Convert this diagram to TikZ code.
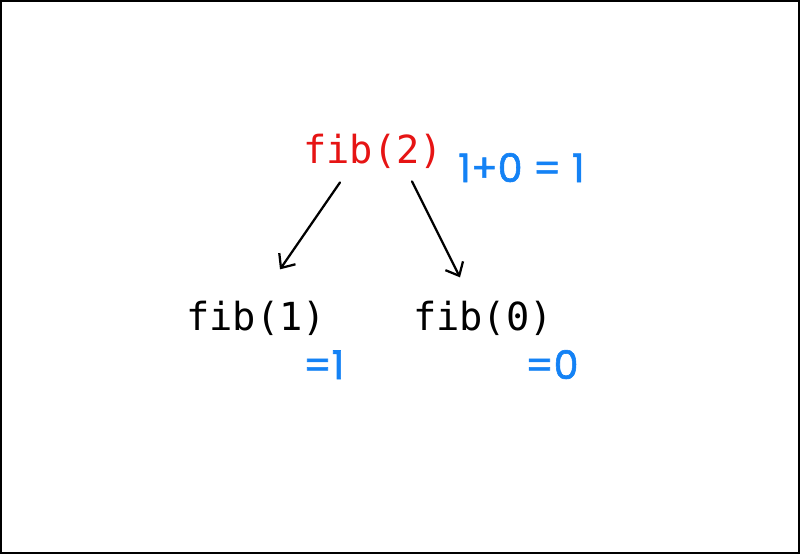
\documentclass[tikz,border=0pt]{standalone}
\usepackage{fontspec}
\setmonofont{DejaVu Sans Mono}
\newfontfamily\sumfont[FakeBold=1.5]{Poppins}
\usetikzlibrary{arrows.meta, calc}

\definecolor{callred}{RGB}{230,20,20}
\definecolor{sumblue}{RGB}{20,130,245}

\tikzset{
  call/.style={inner sep=0pt, anchor=base, font=\ttfamily\fontsize{27.5}{31}\selectfont},
  result/.style={inner sep=0pt, anchor=base west, text=sumblue, font=\sumfont\fontsize{28}{32}\selectfont},
  link/.style={->, line width=1.6pt, >={Straight Barb[length=8pt, width=14pt]}, line cap=round}
}

\begin{document}
\begin{tikzpicture}[x=0.025cm, y=-0.025cm]

% Frame
\draw[line width=1.5pt] (1,1) rectangle (799,553);

% Calls
\node[call, text=callred] (fibtwo) at (373,163) {fib(2)};
\node[call] (fibone) at (256,330) {fib(1)};
\node[call] (fibzero) at (483,330) {fib(0)};

% Results
\node[result] (sumtwo) at (458,182) {1+0 = 1};
\node[result] (sumone) at (303,379) {=1};
\node[result] (sumzero) at (525,379) {=0};

% Recursive calls
\draw[link] ($(fibtwo.south)+(-33,14)$) -- ($(fibone.north)+(24,-31)$);
\draw[link] ($(fibtwo.south)+(39,13)$) -- ($(fibzero.north)+(-23,-23)$);

\end{tikzpicture}
\end{document}
